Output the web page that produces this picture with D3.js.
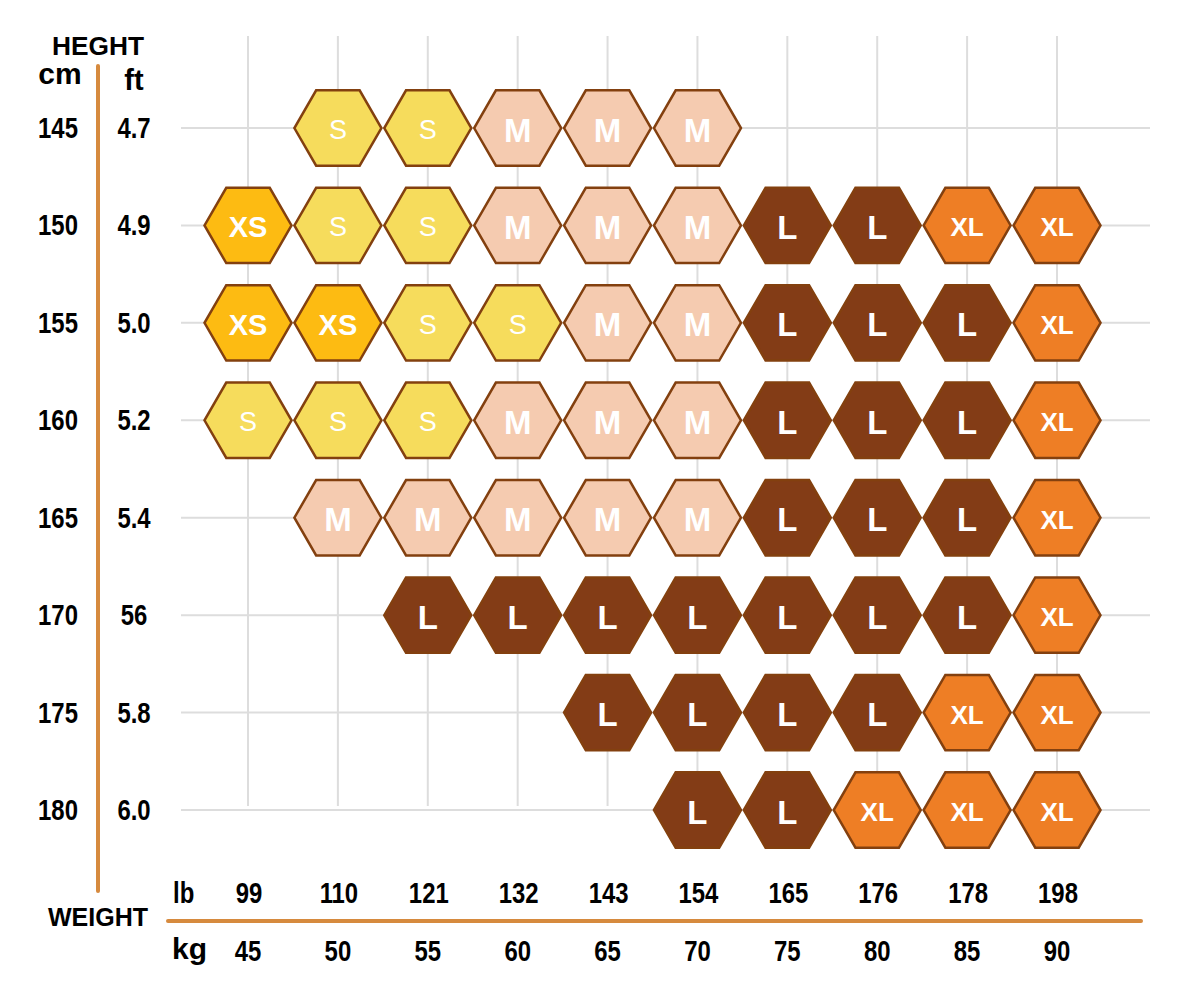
<!DOCTYPE html>
<html>
<head>
<meta charset="utf-8">
<script src="https://cdn.jsdelivr.net/npm/d3@7"></script>
<style>
  html, body { margin: 0; padding: 0; background: #ffffff; }
  svg { display: block; }
</style>
</head>
<body>
<svg id="chart" width="1200" height="1008"></svg>
<script>
// ---- data ----
const heightsCm = [145, 150, 155, 160, 165, 170, 175, 180];
const heightsFt = ["4.7", "4.9", "5.0", "5.2", "5.4", "56", "5.8", "6.0"];
const weightsKg = [45, 50, 55, 60, 65, 70, 75, 80, 85, 90];
const weightsLb = ["99", "110", "121", "132", "143", "154", "165", "176", "178", "198"];
const sizeRow145 = ["", "S", "S", "M", "M", "M", "", "", "", ""];
const sizeRow150 = ["XS", "S", "S", "M", "M", "M", "L", "L", "XL", "XL"];
const sizeRow155 = ["XS", "XS", "S", "S", "M", "M", "L", "L", "L", "XL"];
const sizeRow160 = ["S", "S", "S", "M", "M", "M", "L", "L", "L", "XL"];
const sizeRow165 = ["", "M", "M", "M", "M", "M", "L", "L", "L", "XL"];
const sizeRow170 = ["", "", "L", "L", "L", "L", "L", "L", "L", "XL"];
const sizeRow175 = ["", "", "", "", "L", "L", "L", "L", "XL", "XL"];
const sizeRow180 = ["", "", "", "", "", "L", "L", "XL", "XL", "XL"];
const sizeRows = [sizeRow145, sizeRow150, sizeRow155, sizeRow160, sizeRow165, sizeRow170, sizeRow175, sizeRow180];

const sizeNames = ["XS", "S", "M", "L", "XL"];
const sizeColors = ["#FDBB12", "#F6DC5C", "#F5CBB0", "#833C16", "#EE7E25"];
const sizeFontSize = [29, 27, 33, 33, 26];
const sizeFontWeight = ["bold", "normal", "bold", "bold", "bold"];

// ---- build cells ----
const cells = [];
sizeRows.forEach((row, i) => {
  row.forEach((s, j) => {
    if (s) cells.push({ h: heightsCm[i], w: weightsKg[j], size: s });
  });
});

const svg = d3.select("#chart");
const x = d3.scalePoint().domain(weightsKg).range([248, 1057]);
const y = d3.scalePoint().domain(heightsCm).range([128, 810]);
const fill = d3.scaleOrdinal().domain(sizeNames).range(sizeColors);
const fsz = d3.scaleOrdinal().domain(sizeNames).range(sizeFontSize);
const fwt = d3.scaleOrdinal().domain(sizeNames).range(sizeFontWeight);

const font = "'Liberation Sans', Arial, sans-serif";
const narrow = 0.81;

// ---- grid ----
const grid = svg.append("g");
grid.selectAll("line.v").data(weightsKg).enter().append("line")
  .attr("x1", d => x(d)).attr("x2", d => x(d))
  .attr("y1", 36).attr("y2", 806)
  .attr("stroke", "#DDDDDD").attr("stroke-width", 2);
grid.selectAll("line.h").data(heightsCm).enter().append("line")
  .attr("x1", 181).attr("x2", 1150)
  .attr("y1", d => y(d)).attr("y2", d => y(d))
  .attr("stroke", "#DDDDDD").attr("stroke-width", 2);

// ---- axes lines ----
svg.append("line").attr("x1", 98).attr("x2", 98).attr("y1", 66).attr("y2", 891)
  .attr("stroke", "#D68A3E").attr("stroke-width", 4).attr("stroke-linecap", "round");
svg.append("line").attr("x1", 168).attr("x2", 1141).attr("y1", 921).attr("y2", 921)
  .attr("stroke", "#D68A3E").attr("stroke-width", 4).attr("stroke-linecap", "round");

// ---- hexagons ----
const r = 43.5;
const hexPts = d3.range(6).map(k => {
  const a = Math.PI / 3 * k;
  return [r * Math.cos(a), r * Math.sin(a)];
});
const hexPath = "M" + hexPts.map(p => p.join(",")).join("L") + "Z";

const hex = svg.append("g").selectAll("g").data(cells).enter().append("g")
  .attr("transform", d => `translate(${x(d.w)},${y(d.h)})`);
hex.append("path")
  .attr("d", hexPath)
  .attr("fill", d => fill(d.size))
  .attr("stroke", "#83400F")
  .attr("stroke-width", 2.5)
  .attr("stroke-linejoin", "miter");
hex.append("text")
  .attr("text-anchor", "middle")
  .attr("dominant-baseline", "central")
  .attr("y", 2)
  .attr("fill", "#ffffff")
  .attr("font-family", font)
  .attr("font-size", d => fsz(d.size))
  .attr("font-weight", d => fwt(d.size))
  .text(d => d.size);

// helper for condensed bold numbers
function narrowText(g, data, fx, fy, ftext, anchor) {
  g.selectAll("text").data(data).enter().append("text")
    .attr("transform", (d, i) => `translate(${fx(d, i)},${fy(d, i)}) scale(${narrow},1)`)
    .attr("text-anchor", anchor || "middle")
    .attr("font-family", font).attr("font-weight", "bold").attr("font-size", 29.5)
    .attr("fill", "#000").text(ftext);
}

// ---- height labels ----
svg.append("text").attr("x", 98).attr("y", 55).attr("text-anchor", "middle")
  .attr("font-family", font).attr("font-weight", "bold").attr("font-size", 25)
  .attr("textLength", 92).attr("lengthAdjust", "spacingAndGlyphs")
  .attr("fill", "#000").text("HEGHT");
svg.append("text").attr("x", 60).attr("y", 84).attr("text-anchor", "middle")
  .attr("font-family", font).attr("font-weight", "bold").attr("font-size", 30)
  .attr("fill", "#000").text("cm");
svg.append("text").attr("x", 134).attr("y", 90).attr("text-anchor", "middle")
  .attr("font-family", font).attr("font-weight", "bold").attr("font-size", 29)
  .attr("fill", "#000").text("ft");

narrowText(svg.append("g"), heightsCm, () => 58, d => y(d) + 10, d => d);
narrowText(svg.append("g"), heightsCm, () => 134, d => y(d) + 10, (d, i) => heightsFt[i]);

// ---- weight labels ----
svg.append("text").attr("x", 98).attr("y", 926).attr("text-anchor", "middle")
  .attr("font-family", font).attr("font-weight", "bold").attr("font-size", 25)
  .attr("textLength", 100).attr("lengthAdjust", "spacingAndGlyphs")
  .attr("fill", "#000").text("WEIGHT");
narrowText(svg.append("g"), ["lb"], () => 173, () => 903, d => d, "start");
svg.append("text").attr("x", 172).attr("y", 959)
  .attr("font-family", font).attr("font-weight", "bold").attr("font-size", 30)
  .attr("fill", "#000").text("kg");

narrowText(svg.append("g"), weightsKg, d => x(d) + 1, () => 903, (d, i) => weightsLb[i]);
narrowText(svg.append("g"), weightsKg, d => x(d), () => 961, d => d);
</script>
</body>
</html>
